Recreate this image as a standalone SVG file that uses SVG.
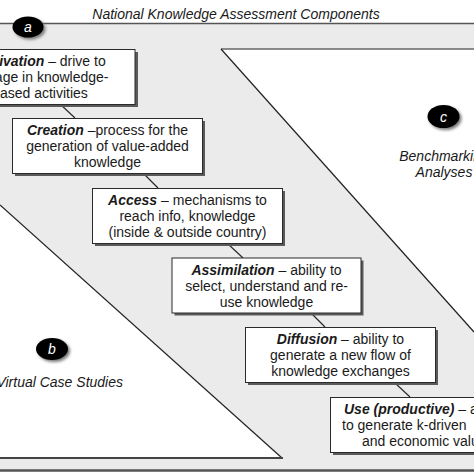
<svg xmlns="http://www.w3.org/2000/svg" width="474" height="474" viewBox="0 0 474 474">
<style>
.t{font-family:"Liberation Sans",Arial,sans-serif;font-size:14px;fill:#1a1a1a}
.c{text-anchor:middle}
.b{font-weight:bold;font-style:italic}
.i{font-style:italic}
.box{fill:#ffffff;stroke:#2a2a2a;stroke-width:1}
.shadow{fill:#5a5a5a}
.conn{stroke:#2a2a2a;stroke-width:1.2;fill:none}
.lbl{font-family:"Liberation Sans",Arial,sans-serif;font-size:14px;font-style:italic;fill:#ffffff;text-anchor:middle}
</style>
<defs>
<filter id="blur" x="-50%" y="-50%" width="200%" height="200%"><feGaussianBlur stdDeviation="1.5"/></filter>
</defs>
<rect x="0" y="0" width="474" height="474" fill="#ffffff"/>
<g id="background">
<rect x="0" y="23" width="474" height="447" fill="#ebebeb"/>
<line x1="0" y1="23.5" x2="474" y2="23.5" stroke="#555" stroke-width="1.5"/>
<polygon points="221,49 474,49 474,332" fill="#ffffff"/>
<line x1="221" y1="49" x2="474" y2="49" stroke="#666" stroke-width="1.6"/>
<line x1="221" y1="49" x2="474" y2="332" stroke="#222" stroke-width="1.2"/>
<polygon points="0,205 282,458 0,458" fill="#ffffff"/>
<line x1="0" y1="205" x2="282" y2="458" stroke="#222" stroke-width="1.2"/>
<line x1="0" y1="458" x2="283" y2="458" stroke="#444" stroke-width="2"/>
<line x1="0" y1="470.5" x2="474" y2="470.5" stroke="#555" stroke-width="2.5"/>
<text class="t i c" x="236" y="18.5">National Knowledge Assessment Components</text>
</g>
<g id="label-a">
<ellipse cx="30" cy="29" rx="15.5" ry="10.5" fill="#777" filter="url(#blur)"/>
<ellipse cx="28" cy="27" rx="15.5" ry="10.5" fill="#000"/>
<text class="lbl" x="28" y="32">a</text>
</g>
<g id="label-b">
<ellipse cx="54" cy="351" rx="16" ry="11" fill="#777" filter="url(#blur)"/>
<ellipse cx="52" cy="349" rx="16" ry="11" fill="#000"/>
<text class="lbl" x="52" y="354">b</text>
<text class="t i" x="123" y="387" text-anchor="end">Virtual Case Studies</text>
</g>
<g id="label-c">
<ellipse cx="445.5" cy="118.5" rx="16" ry="11.5" fill="#777" filter="url(#blur)"/>
<ellipse cx="443.5" cy="116.5" rx="16" ry="11.5" fill="#000"/>
<text class="lbl" x="443.5" y="121.5">c</text>
<text class="t i c" x="444" y="161">Benchmarking</text>
<text class="t i c" x="444" y="177">Analyses</text>
</g>
<g id="connectors">
<line class="conn" x1="60" y1="104" x2="75" y2="118"/>
<line class="conn" x1="143" y1="173" x2="158" y2="188"/>
<line class="conn" x1="227" y1="243" x2="243" y2="258"/>
<line class="conn" x1="310" y1="312" x2="325" y2="327"/>
<line class="conn" x1="395" y1="383" x2="410" y2="397"/>
</g>
<g id="motivation">
<rect class="shadow" x="-52" y="52" width="190" height="55"/>
<rect class="box" x="-55" y="49.5" width="190" height="55"/>
<text class="t c" x="40" y="66"><tspan class="b">Motivation</tspan> – drive to</text>
<text class="t c" x="40" y="82">engage in knowledge-</text>
<text class="t c" x="40" y="98">based activities</text>
</g>
<g id="creation">
<rect class="shadow" x="15" y="121" width="190" height="55"/>
<rect class="box" x="12.5" y="118.5" width="190" height="55"/>
<text class="t c" x="107.5" y="135"><tspan class="b">Creation</tspan> –process for the</text>
<text class="t c" x="107.5" y="151">generation of value-added</text>
<text class="t c" x="107.5" y="167">knowledge</text>
</g>
<g id="access">
<rect class="shadow" x="95" y="191" width="190" height="55"/>
<rect class="box" x="92.5" y="188.5" width="190" height="55"/>
<text class="t c" x="187.5" y="205"><tspan class="b">Access</tspan> – mechanisms to</text>
<text class="t c" x="187.5" y="221">reach info, knowledge</text>
<text class="t c" x="187.5" y="237">(inside &amp; outside country)</text>
</g>
<g id="assimilation">
<rect class="shadow" x="174.5" y="260.5" width="189" height="55"/>
<rect class="box" x="172" y="258" width="189" height="55"/>
<text class="t c" x="266.5" y="275"><tspan class="b">Assimilation</tspan> – ability to</text>
<text class="t c" x="266.5" y="291">select, understand and re-</text>
<text class="t c" x="266.5" y="307">use knowledge</text>
</g>
<g id="diffusion">
<rect class="shadow" x="248" y="330" width="190" height="55"/>
<rect class="box" x="245.5" y="327.5" width="190" height="55"/>
<text class="t c" x="340.5" y="344"><tspan class="b">Diffusion</tspan> – ability to</text>
<text class="t c" x="340.5" y="360">generate a new flow of</text>
<text class="t c" x="340.5" y="376">knowledge exchanges</text>
</g>
<g id="use">
<rect class="shadow" x="333" y="400" width="190" height="55"/>
<rect class="box" x="330.5" y="397.5" width="190" height="55"/>
<text class="t" x="344" y="414"><tspan class="b">Use (productive)</tspan> – ability</text>
<text class="t" x="342" y="430">to generate k-driven</text>
<text class="t" x="362" y="446">and economic value</text>
</g>
</svg>
